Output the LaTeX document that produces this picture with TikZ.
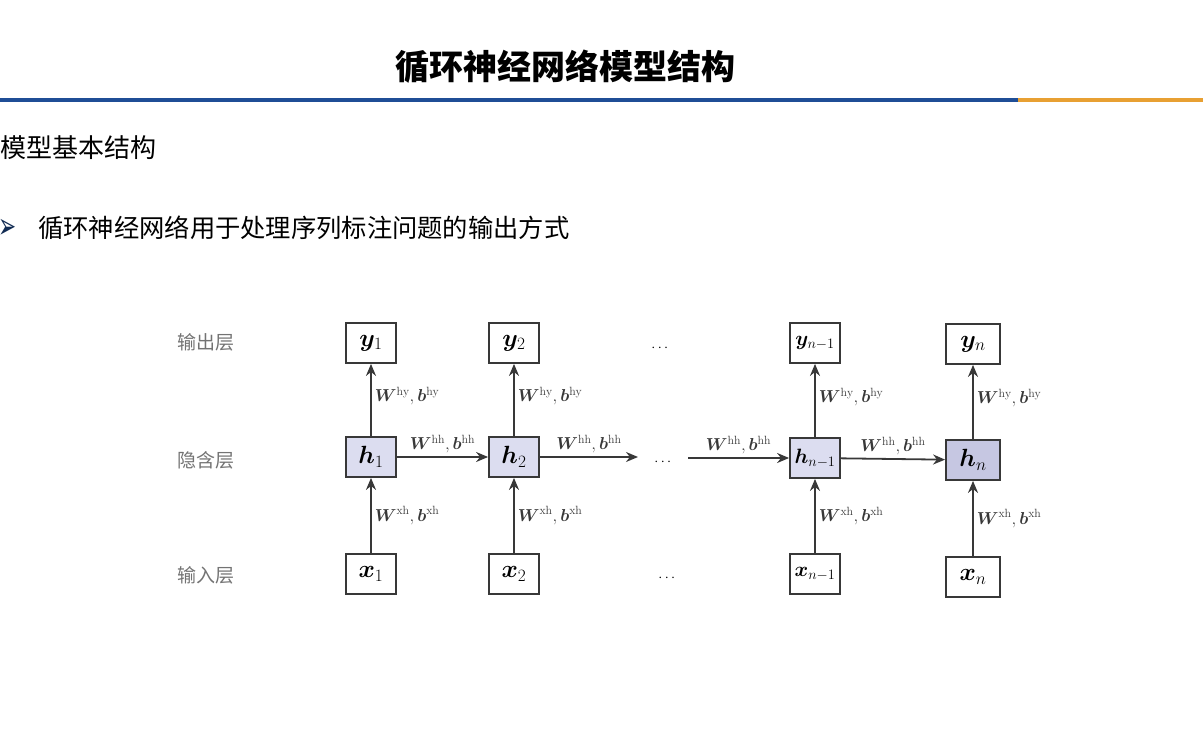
\documentclass[tikz,border=0pt]{standalone}
\usepackage{fontspec}
\usepackage{amsmath}
\usepackage{bm}
\usepackage{tikz}
\usetikzlibrary{arrows.meta}
\newfontfamily\cjk{Noto Sans CJK SC}
\newfontfamily\symfont{DejaVu Sans}
\definecolor{barblue}{HTML}{1F4E96}
\definecolor{barorange}{HTML}{E8A032}
\definecolor{cellfill}{HTML}{DCDDF0}
\definecolor{lastfill}{HTML}{C6C7E2}
\definecolor{edgegray}{HTML}{383838}
\newcommand{\wlab}[1]{$\bm{W}^{\mathrm{#1}},\bm{b}^{\mathrm{#1}}$}

\begin{document}
\begin{tikzpicture}[x=1pt,y=-1pt,
    box/.style={draw=edgegray,line width=1.8pt,minimum width=50pt,minimum height=40pt,inner sep=0pt,font=\fontsize{26}{28}\selectfont},
    cell/.style={box,fill=cellfill},
    small/.style={font=\fontsize{21}{23}\selectfont},
    layer/.style={text=black!55,font=\cjk\fontsize{19}{22}\selectfont},
    wgt/.style={text=edgegray,font=\fontsize{17}{19}\selectfont,inner sep=3pt},
    every edge/.style={draw=edgegray,line width=1.8pt,-{Stealth[length=12pt,width=10pt]}}]
    \useasboundingbox (0,0) rectangle (1203,752);
            % header
            \node[font=\cjk\bfseries\fontsize{34}{38}\selectfont] at (565,67) (title) {循环神经网络模型结构};
            \fill[barblue] (0,98) rectangle (1018,102.5);
            \fill[barorange] (1018,98) rectangle (1203,102.5);
            \node[anchor=west,inner sep=0pt,font=\cjk\fontsize{26}{30}\selectfont] at (0,148) (sub) {模型基本结构};
            \node[text=barblue!55!black,font=\symfont\bfseries\fontsize{24}{26}\selectfont] at (8,229) (bul) {\scalebox{0.9}[1.5]{➢}};
            \node[anchor=west,inner sep=0pt,font=\cjk\fontsize{25.3}{28}\selectfont] at (38,228) (txt) {循环神经网络用于处理序列标注问题的输出方式};
            % layers
            \node[layer] at (206,342) (lo) {输出层};
            \node[layer] at (206,460) (lh) {隐含层};
            \node[layer] at (206,575) (li) {输入层};
            % cells
            \node[box] at (371,343) (y1) {$\bm{y}_1$};
            \node[cell] at (371,457) (h1) {$\bm{h}_1$};
            \node[box] at (371,574) (x1) {$\bm{x}_1$};
            \node[box] at (514,343) (y2) {$\bm{y}_2$};
            \node[cell] at (514,457) (h2) {$\bm{h}_2$};
            \node[box] at (514,574) (x2) {$\bm{x}_2$};
            \node[box,small] at (815,343) (ym) {$\bm{y}_{n-1}$};
            \node[cell,small] at (815,458) (hm) {$\bm{h}_{n-1}$};
            \node[box,small] at (815,574) (xm) {$\bm{x}_{n-1}$};
            \node[box,minimum width=54pt] at (973,344) (yn) {$\bm{y}_n$};
            \node[box,fill=lastfill,minimum width=54pt] at (973,460) (hn) {$\bm{h}_n$};
            \node[box,minimum width=54pt] at (973,577) (xn) {$\bm{x}_n$};
            \node[font=\Large] at (661,348) (d1) {$\cdots$};
            \node[font=\Large] at (664,462) (d2) {$\cdots$};
            \node[font=\Large] at (668,578) (d3) {$\cdots$};
            \coordinate (out2) at (638,457);
            \coordinate (inm) at (688,458);
            % connectors
            \path (x1) edge node[wgt,right] {\wlab{xh}} (h1)
                  (h1) edge node[wgt,right,pos=0.55] {\wlab{hy}} (y1)
                  (h1) edge node[wgt,above] {\wlab{hh}} (h2)
                  (x2) edge node[wgt,right] {\wlab{xh}} (h2)
                  (h2) edge node[wgt,right,pos=0.55] {\wlab{hy}} (y2)
                  (h2) edge node[wgt,above] {\wlab{hh}} (out2)
                  (inm) edge node[wgt,above] {\wlab{hh}} (hm)
                  (xm) edge node[wgt,right] {\wlab{xh}} (hm)
                  (hm) edge node[wgt,right,pos=0.55] {\wlab{hy}} (ym)
                  (hm) edge node[wgt,above] {\wlab{hh}} (hn)
                  (xn) edge node[wgt,right] {\wlab{xh}} (hn)
                  (hn) edge node[wgt,right,pos=0.55] {\wlab{hy}} (yn);
        \end{tikzpicture}
\end{document}
